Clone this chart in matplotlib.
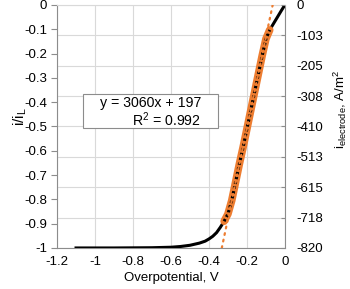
import numpy as np
import matplotlib
matplotlib.use('Agg')
import matplotlib.pyplot as plt
from matplotlib.patches import Rectangle

plt.rcParams['font.family'] = ['Liberation Sans', 'DejaVu Sans']
plt.rcParams['mathtext.fontset'] = 'custom'
plt.rcParams['mathtext.rm'] = 'Liberation Sans'
plt.rcParams['mathtext.it'] = 'Liberation Sans:italic'

# polarisation curve (overpotential in V, i/iL)
eta = [-1.1, -0.9, -0.7, -0.6, -0.55, -0.5, -0.45, -0.42, -0.40, -0.38,
       -0.36, -0.34, -0.32, -0.30, -0.28, -0.26, -0.24, -0.22, -0.20, -0.18,
       -0.16, -0.14, -0.12, -0.10, -0.08, -0.06, -0.04, -0.02, 0.0]
i_norm = [-1.0, -1.0, -0.999, -0.997, -0.994, -0.989, -0.98, -0.972, -0.963, -0.952,
          -0.937, -0.915, -0.89, -0.86, -0.805, -0.73, -0.655, -0.585, -0.51, -0.435,
          -0.36, -0.285, -0.21, -0.14, -0.103, -0.077, -0.051, -0.025, 0.0]

# points used for the linear fit (orange)
fit_start, fit_end = 12, 25

# trendline in A/m2 and limiting current
slope, intercept = 3060, 197
i_lim = 820
right_ticks = [0, -103, -205, -308, -410, -513, -615, -718, -820]

fig = plt.figure(figsize=(3.5, 2.89), dpi=100)
ax = fig.add_axes([0.163, 0.142, 0.651, 0.841])

orange = '#ED7D31'
grid_c = '#d9d9d9'
ax.plot(eta, i_norm, color='black', lw=2.2, zorder=3)
ax.plot(eta[fit_start:fit_end], i_norm[fit_start:fit_end], color=orange, lw=5.5,
        solid_capstyle='round', zorder=4)
ax.plot(eta[fit_start:fit_end], i_norm[fit_start:fit_end], color='black', lw=2.2,
        linestyle=(0, (0.8, 0.8)), zorder=5)

# trendline converted to i/iL
x_lo = (-i_lim - intercept) / slope
x_hi = (0 - intercept) / slope
xt = np.array([x_lo, x_hi])
ax.plot(xt, (slope * xt + intercept) / i_lim, color=orange, lw=1.6,
        linestyle=(0, (0.8, 2.2)), dash_capstyle='round', zorder=6)

ax.set_xlim(-1.2, 0)
ax.set_ylim(-1, 0)
ax.set_xticks(np.arange(-1.2, 0.01, 0.2))
ax.set_xticklabels(['-1.2', '-1', '-0.8', '-0.6', '-0.4', '-0.2', '0'])
ax.set_yticks(np.arange(-1, 0.01, 0.1))
ax.set_yticklabels(['-1', '-0.9', '-0.8', '-0.7', '-0.6', '-0.5', '-0.4', '-0.3', '-0.2', '-0.1', '0'])
ax.tick_params(axis='y', direction='out', length=4, color='#8c8c8c', labelsize=9.5, pad=3)
ax.tick_params(axis='x', length=0, labelsize=9.5, pad=6)
ax.grid(axis='x', color=grid_c, lw=0.8)
# horizontal grid follows the right axis ticks
for t in right_ticks:
    ax.axhline(t / i_lim, color=grid_c, lw=0.8, zorder=0.5)
for s in ['left', 'bottom', 'right']:
    ax.spines[s].set_color('#8c8c8c')
ax.spines['top'].set_color(grid_c)
ax.set_xlabel('Overpotential, V', fontsize=9.5, labelpad=3)
ax.set_ylabel(r'i/i$_{\mathrm{L}}$', fontsize=11, labelpad=4)
ax.yaxis.set_label_coords(-0.125, 0.54)

ax2 = ax.twinx()
ax2.set_ylim(-i_lim, 0)
ax2.set_yticks(right_ticks)
ax2.set_yticklabels([str(t) for t in right_ticks])
ax2.tick_params(axis='y', direction='in', length=3, color='#8c8c8c', labelsize=9.5, pad=8)
for s in ax2.spines.values():
    s.set_visible(False)
ax2.set_ylabel(r'i$_{\mathrm{electrode}}$, A/m$^2$', fontsize=9.5)
ax2.yaxis.set_label_coords(1.205, 0.57)

# trendline label box
ax.add_patch(Rectangle((-1.063, -0.506), 0.71, 0.14, fc='white', ec='#8c8c8c',
                       lw=0.8, zorder=7))
ax.text(-0.708, -0.442, 'y = 3060x + 197\nR$^2$ = 0.992', fontsize=10.2,
        ha='center', va='center', multialignment='right', linespacing=1.05, zorder=8)

fig.savefig('out.png', dpi=100)
